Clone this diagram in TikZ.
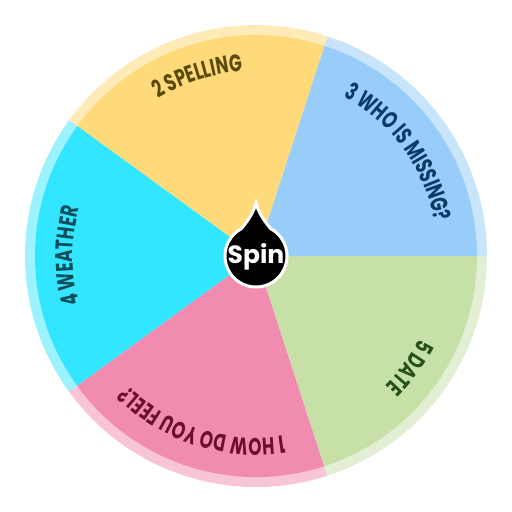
\documentclass[tikz,border=0pt]{standalone}
\usepackage{fontspec}
\setmainfont{Poppins}
\newfontfamily\lblfont[FakeStretch=0.7]{Poppins}
\usetikzlibrary{decorations.text}
\definecolor{bluemain}{HTML}{97CDF8}
\definecolor{bluerim}{HTML}{C9E5FB}
\definecolor{bluetxt}{HTML}{0B3A66}
\definecolor{yellowmain}{HTML}{FFDA7A}
\definecolor{yellowrim}{HTML}{FFEBB8}
\definecolor{yellowtxt}{HTML}{5C4A0A}
\definecolor{cyanmain}{HTML}{33E6FF}
\definecolor{cyanrim}{HTML}{9DF2FF}
\definecolor{cyantxt}{HTML}{0C4E5C}
\definecolor{pinkmain}{HTML}{F28BB0}
\definecolor{pinkrim}{HTML}{F8C5D8}
\definecolor{pinktxt}{HTML}{6B0F30}
\definecolor{greenmain}{HTML}{C6E0A8}
\definecolor{greenrim}{HTML}{E2EFD4}
\definecolor{greentxt}{HTML}{24521A}
\tikzset{
  lbl/.style={decorate, decoration={text along path, text align=center, text color=#1}}
}
\begin{document}
\begin{tikzpicture}[x=1pt,y=1pt]
\useasboundingbox (-256,-256) rectangle (256,256);
\foreach \a/\c in {0/blue,72/yellow,144/cyan,216/pink,288/green}{
  \fill[\c rim] (0,0) -- (\a:231) arc[start angle=\a, end angle=\a+72, radius=231] -- cycle;
  \fill[\c main] (0,0) -- (\a:221) arc[start angle=\a, end angle=\a+72, radius=221] -- cycle;
}
\path[lbl=bluetxt, decoration={text={|\lblfont\bfseries\fontsize{24}{24}\selectfont|3 WHO IS MISSING?}}]
  (106:182) arc[start angle=106, end angle=-34, radius=182];
\path[lbl=yellowtxt, decoration={text={|\lblfont\bfseries\fontsize{24}{24}\selectfont|2 SPELLING}}]
  (178:185) arc[start angle=178, end angle=38, radius=185];
\path[lbl=cyantxt, decoration={text={|\lblfont\bfseries\fontsize{24}{24}\selectfont|4 WEATHER}}]
  (250:183) arc[start angle=250, end angle=110, radius=183];
\path[lbl=pinktxt, decoration={text={|\lblfont\bfseries\fontsize{24}{24}\selectfont|1 HOW DO YOU FEEL?}}]
  (322:182) arc[start angle=322, end angle=182, radius=182];
\path[lbl=greentxt, decoration={text={|\lblfont\bfseries\fontsize{24}{24}\selectfont|5 DATE}}]
  (394:183) arc[start angle=394, end angle=254, radius=183];
\filldraw[fill=black, draw=white, line width=3] (0,53) .. controls (2,45) and (6,38) .. (62:31)
  arc[start angle=62, end angle=-242, radius=31] .. controls (-6,38) and (-2,45) .. (0,53) -- cycle;
\node[text=white, font=\bfseries\fontsize{25}{25}\selectfont] (spin) at (0,-1) {Spin};
\end{tikzpicture}
\end{document}
